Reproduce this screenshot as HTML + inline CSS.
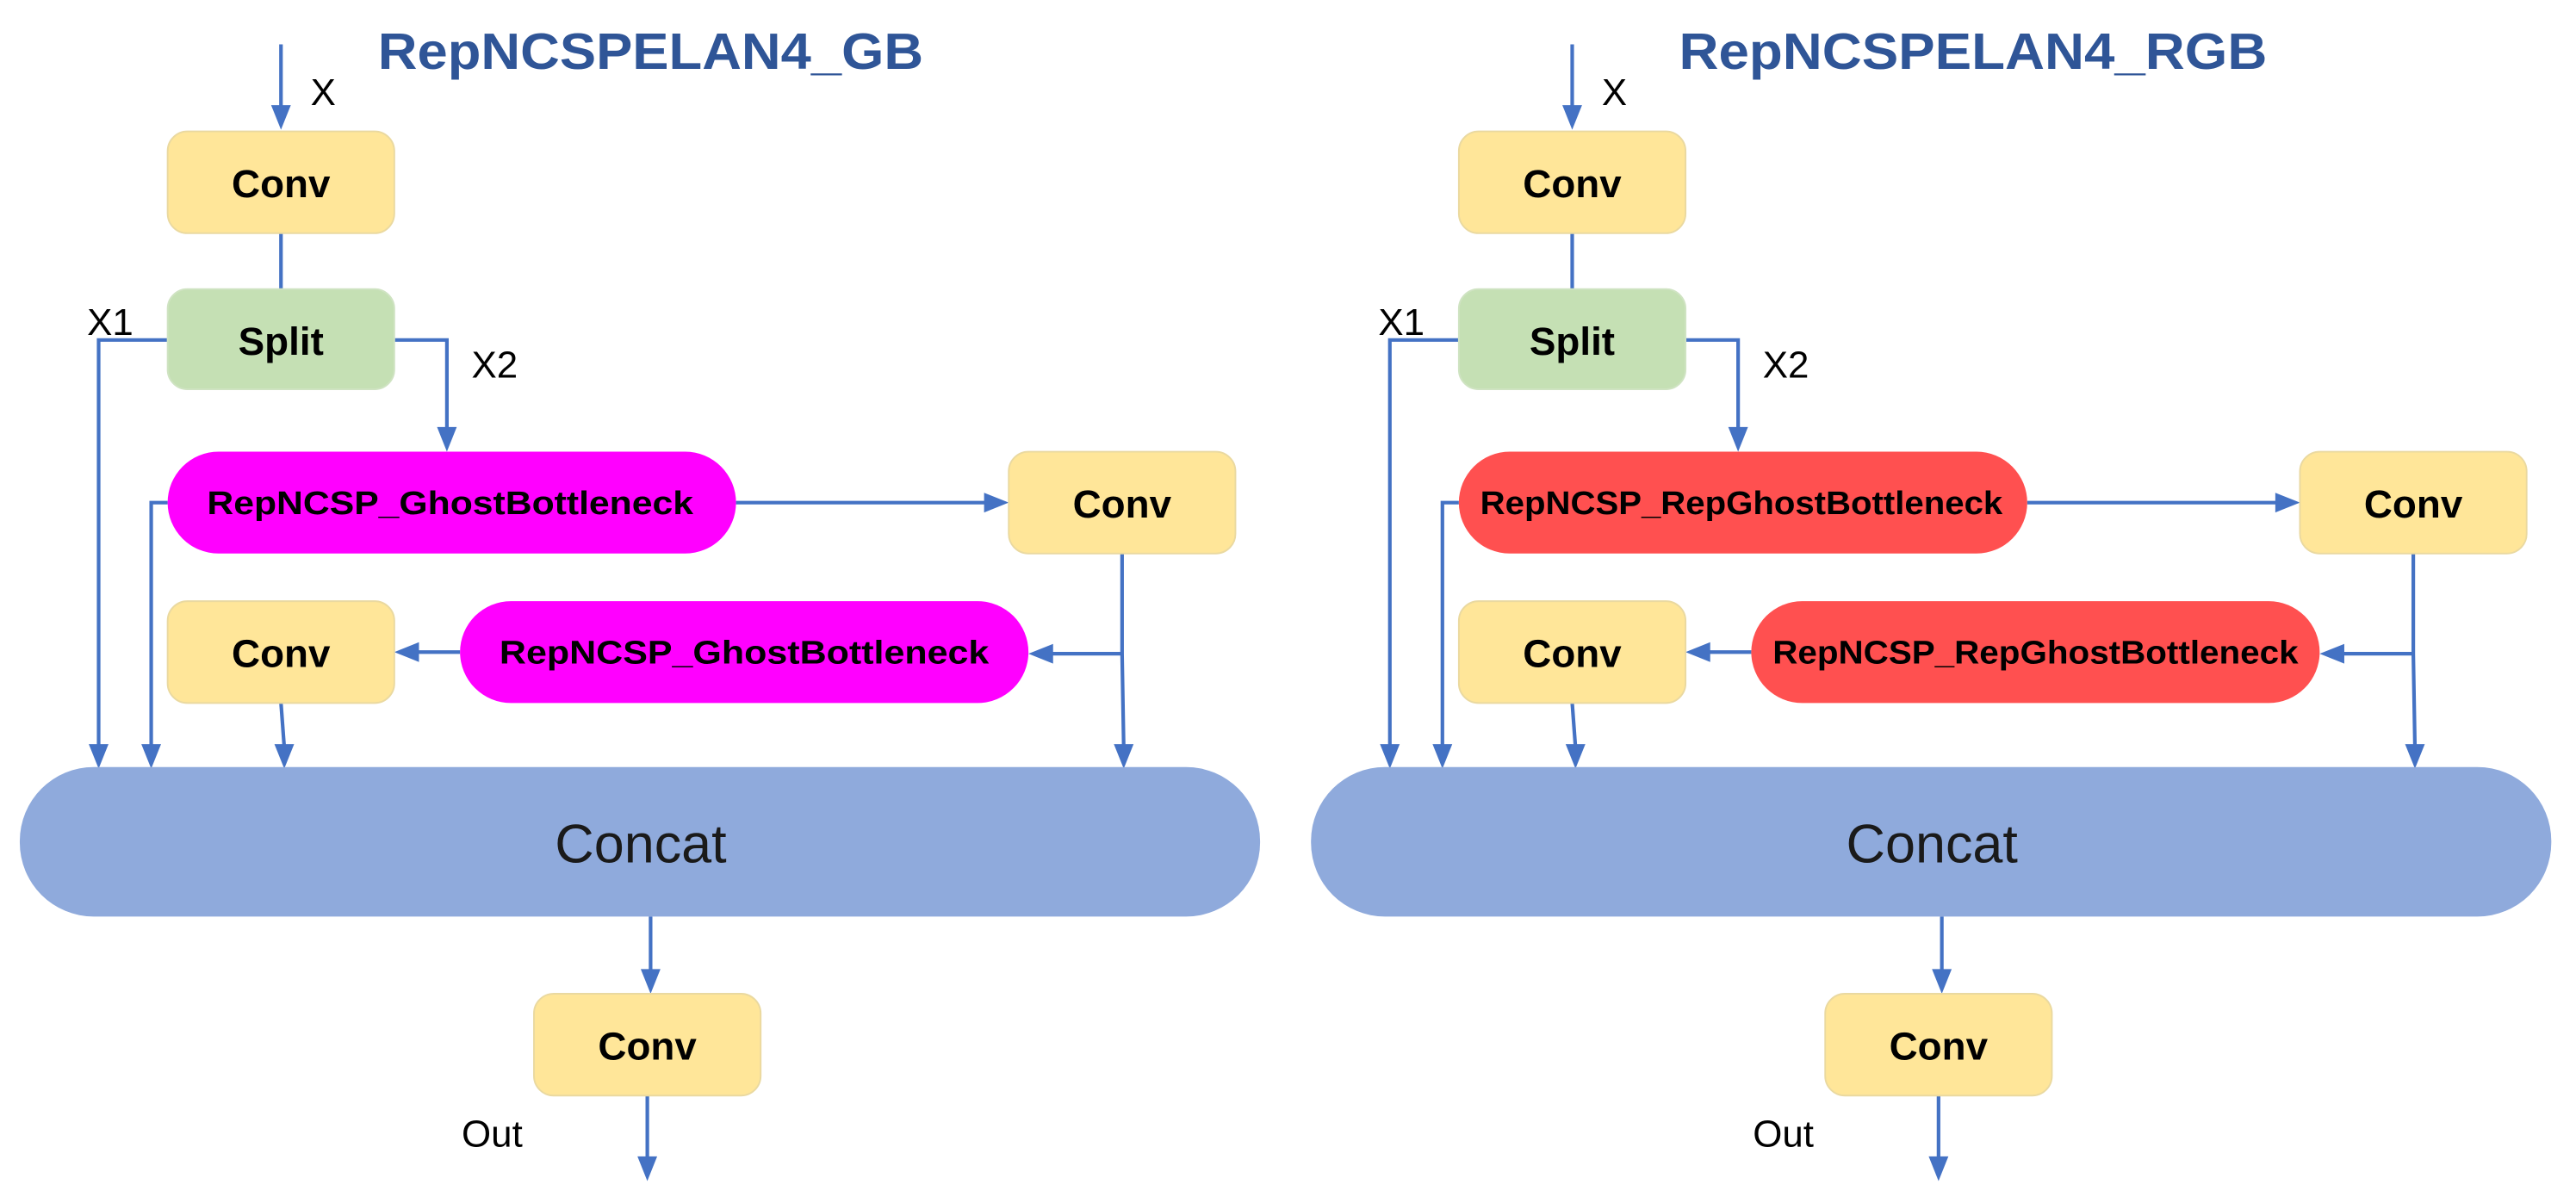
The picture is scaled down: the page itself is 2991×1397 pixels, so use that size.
<!DOCTYPE html>
<html><head><meta charset="utf-8"><style>html,body{margin:0;padding:0;background:#fff}svg{display:block}</style></head>
<body>
<svg width="2991" height="1397" viewBox="0 0 1568 732.4" xmlns="http://www.w3.org/2000/svg" font-family="Liberation Sans, sans-serif">
<defs>
<path id="dn" d="M-6,-15 L6,-15 L0,0 z" fill="#4472C4"/>
<path id="rt" d="M-15,-6 L-15,6 L0,0 z" fill="#4472C4"/>
<path id="lt" d="M15,-6 L15,6 L0,0 z" fill="#4472C4"/>
<g id="d">
<g fill="none" stroke="#4472C4" stroke-width="2.2">
<path d="M171,27 V66"/>
<path d="M171,142 V176"/>
<path d="M102,207 H60 V455"/>
<path d="M240,207 H272 V262"/>
<path d="M102,306 H92 V455"/>
<path d="M448,306 H600"/>
<path d="M683,337 V398 L684,455"/>
<path d="M683,398 H640"/>
<path d="M280,397 H254"/>
<path d="M171,428 L173,455"/>
<path d="M396,558 V592"/>
<path d="M394,667 V705"/>
</g>
<use href="#dn" x="171" y="79"/>
<use href="#dn" x="60" y="468"/>
<use href="#dn" x="272" y="275"/>
<use href="#dn" x="92" y="468"/>
<use href="#rt" x="614" y="306"/>
<use href="#dn" x="684" y="468"/>
<use href="#lt" x="626" y="398"/>
<use href="#lt" x="240" y="397"/>
<use href="#dn" x="173" y="468"/>
<use href="#dn" x="396" y="605"/>
<use href="#dn" x="394" y="719"/>
<g stroke="#EAD9A0" stroke-width="1">
<rect x="102" y="80" width="138" height="62" rx="12" fill="#FFE699"/>
<rect x="102" y="176" width="138" height="61" rx="12" fill="#C5E0B4" stroke="#CFE3C2"/>
<rect x="614" y="275" width="138" height="62" rx="12" fill="#FFE699"/>
<rect x="102" y="366" width="138" height="62" rx="12" fill="#FFE699"/>
<rect x="325" y="605" width="138" height="62" rx="12" fill="#FFE699"/>
</g>
<rect x="12" y="467" width="755" height="91" rx="45" fill="#8FAADC"/>
<g font-weight="bold" font-size="24" text-anchor="middle" fill="#000">
<text x="171" y="120">Conv</text>
<text x="171" y="216">Split</text>
<text x="683" y="315">Conv</text>
<text x="171" y="406">Conv</text>
<text x="394" y="645">Conv</text>
</g>
<g font-size="23" fill="#000">
<text x="189" y="64">X</text>
<text x="53" y="204">X1</text>
<text x="287" y="230">X2</text>
<text x="281" y="698">Out</text>
</g>
<text x="390" y="525" font-size="33" text-anchor="middle" fill="#1a1a1a">Concat</text>
</g>
</defs>

<use href="#d"/>
<rect x="102" y="275" width="346" height="62" rx="31" fill="#FF00FF"/>
<rect x="280" y="366" width="346" height="62" rx="31" fill="#FF00FF"/>
<g font-weight="bold" font-size="20" fill="#000">
<text x="126" y="313" textLength="296" lengthAdjust="spacingAndGlyphs">RepNCSP_GhostBottleneck</text>
<text x="304" y="404" textLength="298" lengthAdjust="spacingAndGlyphs">RepNCSP_GhostBottleneck</text>
</g>
<text x="230" y="42" font-weight="bold" font-size="31" fill="#2F5597" textLength="332" lengthAdjust="spacingAndGlyphs">RepNCSPELAN4_GB</text>

<g transform="translate(786,0)">
<use href="#d"/>
<rect x="102" y="275" width="346" height="62" rx="31" fill="#FF5050"/>
<rect x="280" y="366" width="346" height="62" rx="31" fill="#FF5050"/>
<g font-weight="bold" font-size="20" fill="#000">
<text x="115" y="313" textLength="318" lengthAdjust="spacingAndGlyphs">RepNCSP_RepGhostBottleneck</text>
<text x="293" y="404" textLength="320" lengthAdjust="spacingAndGlyphs">RepNCSP_RepGhostBottleneck</text>
</g>
<text x="236" y="42" font-weight="bold" font-size="31" fill="#2F5597" textLength="358" lengthAdjust="spacingAndGlyphs">RepNCSPELAN4_RGB</text>
</g>
</svg>
</body></html>
